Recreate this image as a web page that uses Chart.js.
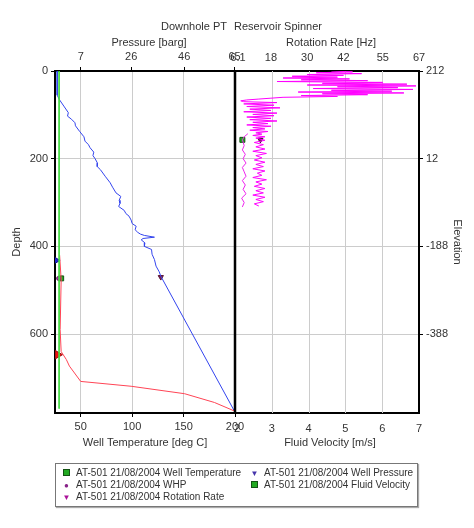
<!DOCTYPE html>
<html><head><meta charset="utf-8">
<script src="https://cdn.jsdelivr.net/npm/chart.js@4.4.1/dist/chart.umd.min.js"></script>
<style>
body{margin:0;background:#fff;font-family:"Liberation Sans",Arial,sans-serif;}
#wrap{position:relative;width:474px;height:528px;}
canvas{position:absolute;left:0;top:0;}
#leg{position:absolute;left:55px;top:463px;width:361px;height:42px;border:1px solid #777;box-shadow:1px 1px 1px #aaa;font-size:10px;color:#333;}
.it{position:absolute;white-space:nowrap;}
.mk{display:inline-block;width:9px;text-align:center;margin-right:5px;font-size:8px;}
</style></head><body>
<div id="wrap"><canvas id="c" width="474" height="528"></canvas>
<div id="leg">
<div class="it" style="left:6px;top:3px"><span class="mk"><span style="display:inline-block;width:5px;height:5px;background:#22aa22;border:1px solid #145214"></span></span>AT-501 21/08/2004 Well Temperature</div>
<div class="it" style="left:194px;top:3px"><span class="mk" style="color:#4433aa">▼</span>AT-501 21/08/2004 Well Pressure</div>
<div class="it" style="left:6px;top:15px"><span class="mk" style="color:#882288">●</span>AT-501 21/08/2004 WHP</div>
<div class="it" style="left:194px;top:15px"><span class="mk"><span style="display:inline-block;width:5px;height:5px;background:#22aa22;border:1px solid #145214"></span></span>AT-501 21/08/2004 Fluid Velocity</div>
<div class="it" style="left:6px;top:27px"><span class="mk" style="color:#aa1199">▼</span>AT-501 21/08/2004 Rotation Rate</div>
</div></div>
<script>
// ---- data ----
const whpDepth = [0, 770];
const whpTemp = [29, 29];
const tempDepth = [420, 476, 590, 640, 658, 673, 708, 719, 736, 756, 776];
const tempValue = [29.5, 31, 30, 31, 36, 39, 50, 99, 151, 180, 200];
const presDepth = [0, 55, 65, 80, 95, 103, 110, 118, 125, 138, 150, 160, 168, 175, 185, 193, 200, 210, 218, 225, 240, 255, 265, 278, 286, 295, 302, 309, 318, 325, 331, 340, 348, 354, 362, 368, 372, 375, 379, 382, 385, 392, 400, 407, 418, 430, 445, 458, 468, 776];
const presValue = [-1.9, -1.9, -1.1, 0.6, 2.3, 2.0, 3.5, 4.8, 5.0, 6.6, 8.2, 8.6, 9.9, 10.5, 11.9, 11.6, 12.4, 13.3, 13.2, 14.4, 16.2, 18.1, 19.0, 20.3, 22.1, 21.5, 21.8, 21.3, 23.4, 24.0, 25.2, 26.0, 26.4, 27.9, 27.5, 28.5, 29.5, 31, 34.8, 30.5, 29.8, 31.2, 31.0, 33.7, 33.9, 34.8, 35.4, 36.6, 37.2, 65];
const rateDepth = [0,2,4,6,8,10,12,14,16,18,20,22,24,26,28,30,32,34,36,38,40,42,44,46,48,50,52,54,56,58,60,62,64,66,68,70,
  72,75,78,81,84,87,90,93,96,99,102,105,108,111,114,117,120,123,126,129,132,135,138,141,144,147,150,
  153,158,163,168,173,178,183,188,193,198,203,208,213,218,223,228,233,238,243,248,253,258,263,268,273,278,283,288,293,298,303,308];
const rateValue = [38,45,33,48,30,42,25,40,22,44,28,50,20,55,35,63,30,66,40,60,32,65,38,58,27,62,35,50,28,40,22,18,14,10,8,9,
  20,9,19,10,21,11,18,9,20,12,19,10,18,11,20,12,17,10,18,12,16,11,17,13,15,12,16,
  13,16,12.5,15.5,13,16,12,16.5,13,15,12.5,16,13,15.5,12,16,13.5,15,12,16.5,13,15,12.5,16,13,15.5,12,16,13,15.5,12.5,14];
const velDepth = [143,150,157,170,180,190,200,210,220,230,240,250,260,270,280,290,300,310];
const velValue = [2.35,2.25,2.2,2.25,2.2,2.28,2.22,2.3,2.2,2.25,2.3,2.2,2.28,2.22,2.3,2.18,2.25,2.2];
const presTicks = [7, 26, 46, 65];
const tempTicks = [50, 100, 150, 200];
const rateTicks = ['6.1', '18', '30', '42', '55', '67'];
const rateTickVals = [6.1, 18, 30, 42, 55, 67];
const velTicks = [2, 3, 4, 5, 6, 7];
const depthTicks = [0, 200, 400, 600];
const elevTicks = [212, 12, -188, -388];

const pts = (xs, ys) => xs.map((x, i) => ({x: x, y: ys[i]}));
const F = '"Liberation Sans", Arial, sans-serif';
const TXT = '#333';
const line = (label, data, color, xAxis) => ({label, data, xAxisID: xAxis, yAxisID: 'yd', borderColor: color,
  borderWidth: 1, pointRadius: 0, showLine: true, fill: false, tension: 0});
const mark = (label, x, y, xAxis, style, rot, bg, bc, r) => ({label, data: [{x, y}], xAxisID: xAxis, yAxisID: 'yd',
  showLine: false, pointStyle: style, rotation: rot, pointRadius: r, backgroundColor: bg, borderColor: bc, borderWidth: 1});

const overlay = {
  id: 'overlay',
  beforeDatasetsDraw(ch) {
    const c = ch.ctx, a = ch.chartArea, v = ch.scales.xv;
    c.save(); c.strokeStyle = '#ccc'; c.lineWidth = 1;
    velTicks.forEach(t => { if (t > 2 && t < 7) { const x = Math.round(v.getPixelForValue(t)) + 0.5; c.beginPath(); c.moveTo(x, a.top); c.lineTo(x, a.bottom); c.stroke(); } });
    c.restore();
  },
  afterDraw(ch) {
    const c = ch.ctx, a = ch.chartArea, v = ch.scales.xv, r = ch.scales.xr, t = ch.scales.xt;
    c.save();
    const xd = t.getPixelForValue(200);
    c.strokeStyle = '#000'; c.lineWidth = 2.5;
    c.beginPath(); c.moveTo(xd, a.top); c.lineTo(xd, a.bottom); c.stroke();
    c.fillStyle = TXT; c.font = '11px ' + F; c.textAlign = 'center'; c.textBaseline = 'alphabetic';
    rateTickVals.forEach((val, i) => c.fillText(rateTicks[i], r.getPixelForValue(val) + (i === 0 ? 3 : 0), 61));
    velTicks.forEach(val => c.fillText(String(val), v.getPixelForValue(val) + (val === 2 ? 2 : 0), 432));
    c.fillText('Pressure [barg]', 149, 46);
    c.fillText('Rotation Rate [Hz]', 331, 46);
    c.fillText('Well Temperature [deg C]', 145, 446);
    c.fillText('Fluid Velocity [m/s]', 330, 446);
    c.fillText('Downhole PT', 194, 30);
    c.fillText('Reservoir Spinner', 278, 30);
    c.restore();
  }
};

new Chart(document.getElementById('c'), {
  type: 'scatter',
  data: { datasets: [
    line('WHP line', pts(whpTemp, whpDepth), '#44dd44', 'xt'),
    line('Well Temperature line', pts(tempValue, tempDepth), '#ff4455', 'xt'),
    line('Well Pressure line', pts(presValue, presDepth), '#3344ee', 'xp'),
    line('Rotation Rate line', pts(rateValue, rateDepth), '#ff00ff', 'xr'),
    line('Fluid Velocity line', pts(velValue, velDepth), '#ee22ee', 'xv'),
    mark('m1', -2.3, 432, 'xp', 'triangle', 90, '#2222cc', '#111188', 4),
    mark('m2', 28.5, 473, 'xt', 'circle', 0, '#aa33aa', '#662266', 2),
    mark('m3', 31, 473, 'xt', 'rect', 0, '#22aa22', '#145214', 3.5),
    mark('m4', 27.5, 647, 'xt', 'triangle', 90, '#ee1111', '#991111', 5),
    mark('m5', 37.2, 470, 'xp', 'triangle', 180, '#882244', '#551133', 3),
    mark('m6', 2.2, 157, 'xv', 'rect', 0, '#22aa22', '#145214', 3.5),
    mark('m7', 14.5, 157, 'xr', 'triangle', 180, '#552233', '#331122', 3)
  ]},
  plugins: [overlay],
  options: {
    responsive: false, animation: false,
    layout: { padding: 0 },
    plugins: { legend: { display: false }, tooltip: { enabled: false } },
    scales: {
      xt: { type: 'linear', position: 'bottom', min: 25, max: 25 + 364 * 175 / 180,
        afterBuildTicks: s => { s.ticks = tempTicks.map(v => ({value: v})); },
        afterFit: s => { s.height = 528 - 413; },
        ticks: { color: TXT, font: { size: 11, family: F }, maxRotation: 0, padding: 3 },
        grid: { color: '#ccc', tickLength: 4, tickColor: '#000' },
        border: { color: '#000', width: 2 } },
      xp: { type: 'linear', position: 'top', min: 7 - 25.7 * 58 / 153.3, max: 65 + 184 * 58 / 153.3,
        afterBuildTicks: s => { s.ticks = presTicks.map(v => ({value: v})); },
        afterFit: s => { s.height = 71; },
        ticks: { color: TXT, font: { size: 11, family: F }, maxRotation: 0, padding: 3 },
        grid: { drawOnChartArea: false, tickLength: 4, tickColor: '#000' },
        border: { color: '#000', width: 2 } },
      xr: { type: 'linear', display: false, min: 6.1 - 180 * 60.9 / 184, max: 67 },
      xv: { type: 'linear', display: false, min: 2 - 180 / 36.8, max: 7 },
      yd: { type: 'linear', position: 'left', reverse: true, min: 0, max: 780,
        afterBuildTicks: s => { s.ticks = depthTicks.map(v => ({value: v})); },
        afterFit: s => { s.width = 55; },
        title: { display: true, text: 'Depth', color: TXT, font: { size: 11, family: F }, padding: { top: 10, bottom: 0 } },
        ticks: { color: TXT, font: { size: 11, family: F }, padding: 3 },
        grid: { color: '#ccc', tickLength: 4, tickColor: '#000' },
        border: { color: '#000', width: 2 } },
      ye: { type: 'linear', position: 'right', min: 212 - 780, max: 212,
        afterBuildTicks: s => { s.ticks = elevTicks.map(v => ({value: v})); },
        afterFit: s => { s.width = 55; },
        title: { display: true, text: 'Elevation', color: TXT, font: { size: 11, family: F }, padding: { top: 10, bottom: 0 } },
        ticks: { color: TXT, font: { size: 11, family: F }, padding: 3 },
        grid: { drawOnChartArea: false, tickLength: 4, tickColor: '#000' },
        border: { color: '#000', width: 2 } }
    }
  }
});
</script></body></html>
